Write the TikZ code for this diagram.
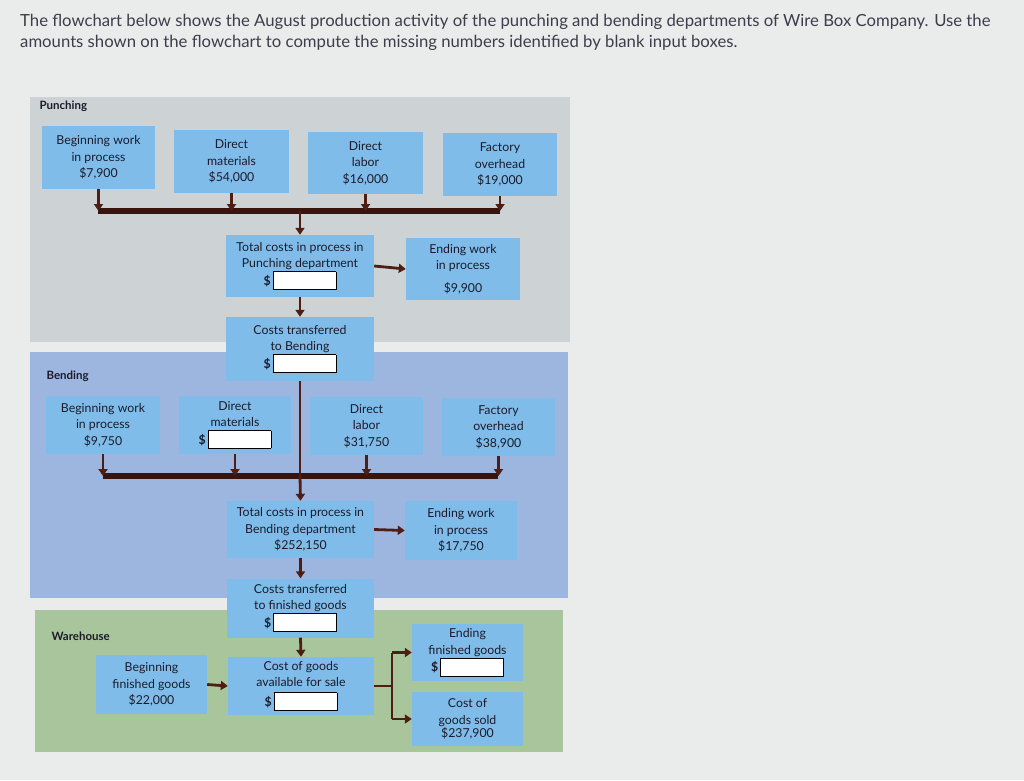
\documentclass[tikz,border=0pt]{standalone}
\usepackage{fontspec}
\setmainfont{Lato}
\usetikzlibrary{arrows.meta}
\definecolor{bg}{HTML}{E9ECEB}
\definecolor{punchgray}{HTML}{CDD3D4}
\definecolor{bendblue}{HTML}{9DB6DF}
\definecolor{waregreen}{HTML}{A9C59B}
\definecolor{boxblue}{HTML}{80BCE9}
\definecolor{ink}{HTML}{1B1B2B}
\definecolor{flow}{HTML}{4E1E14}
\newcommand{\inbox}{{\setlength{\fboxsep}{0pt}\setlength{\fboxrule}{0.9pt}\fcolorbox{black}{white}{\rule[-4pt]{0pt}{17pt}\hspace{62pt}}}}
\begin{document}
\begin{tikzpicture}[x=1pt,y=-1pt,
  box/.style={fill=boxblue, draw=none, align=center, inner sep=0pt, text=ink,
    font=\fontsize{12.3}{16.5}\selectfont},
  plabel/.style={anchor=west, font=\fontsize{11.5}{13}\selectfont\bfseries, text=ink},
  arr/.style={draw=flow, line width=2.8pt, -{Triangle[length=7pt,width=9pt]}},
  link/.style={draw=flow, line width=2.8pt},
  busbar/.style={draw=flow!70!black, line width=6pt}
]
\fill[bg] (0,0) rectangle (1024,780);
\useasboundingbox (0,0) rectangle (1024,780);

% heading
\node[anchor=base west, inner sep=0pt, text=ink!85, font=\fontsize{16.7}{21}\selectfont] (head1) at (20,26)
  {The flowchart below shows the August production activity of the punching and bending departments of Wire Box Company. Use the};
\node[anchor=base west, inner sep=0pt, text=ink!85, font=\fontsize{16.7}{21}\selectfont] (head2) at (20,47)
  {amounts shown on the flowchart to compute the missing numbers identified by blank input boxes.};

% panels
\fill[punchgray] (30,97) rectangle (570,342);
\fill[bendblue] (30,352) rectangle (568,598);
\fill[waregreen] (35,610) rectangle (563,752);

\node[plabel] (lpunch) at (36,106) {Punching};
\node[plabel] (lbend) at (43,376) {Bending};
\node[plabel] (lware) at (48,636) {Warehouse};

% Punching
\node[box, minimum width=113, minimum height=63] (pb1) at (98.5,157.5) {Beginning work\\in process\\\$7,900};
\node[box, minimum width=115, minimum height=63] (pb2) at (231.5,161.5) {Direct\\materials\\\$54,000};
\node[box, minimum width=115, minimum height=62] (pb3) at (365.5,163) {Direct\\labor\\\$16,000};
\node[box, minimum width=114, minimum height=63] (pb4) at (500,164.5) {Factory\\overhead\\\$19,000};
\coordinate (pbarL) at (98,211);
\coordinate (pbarR) at (500,211);
\coordinate (pbarM) at (300,211);
\draw[busbar] (pbarL) -- (pbarR);
\foreach \n in {pb1,pb2,pb3,pb4} \draw[arr] (\n.south) -- (\n.south |- pbarL);

\node[box, minimum width=148, minimum height=62] (ptot) at (300,266)
  {Total costs in process in\\Punching department\\[1pt]\textbf{\$}\,\inbox};
\node[box, minimum width=114, minimum height=62] (pend) at (463,269)
  {Ending work\\in process\\[6pt]\$9,900};
\node[box, minimum width=148, minimum height=64] (pxfer) at (300,349)
  {Costs transferred\\to Bending\\[1pt]\textbf{\$}\,\inbox};
\draw[arr] (pbarM) -- (ptot.north);
\draw[arr] (ptot.east) -- (pend.west);
\draw[arr] (ptot.south) -- (pxfer.north);

% Bending
\node[box, minimum width=114, minimum height=58] (bb1) at (103,425) {Beginning work\\in process\\\$9,750};
\node[box, minimum width=112, minimum height=58] (bb2) at (235,425) {Direct\\materials\\[1pt]\textbf{\$}\,\inbox};
\node[box, minimum width=113, minimum height=58] (bb3) at (366.5,426) {Direct\\labor\\\$31,750};
\node[box, minimum width=113, minimum height=58] (bb4) at (498.5,427) {Factory\\overhead\\\$38,900};
\coordinate (bbarL) at (103,476);
\coordinate (bbarR) at (498,476);
\coordinate (bbarM) at (300,476);
\draw[busbar] (bbarL) -- (bbarR);
\foreach \n in {bb1,bb2,bb3,bb4} \draw[arr] (\n.south) -- (\n.south |- bbarL);
\draw[link] (pxfer.south) -- (bbarM);

\node[box, minimum width=147, minimum height=57] (btot) at (300.5,529.5)
  {Total costs in process in\\Bending department\\\$252,150};
\node[box, minimum width=112, minimum height=59] (bend) at (461,530.5)
  {Ending work\\in process\\\$17,750};
\node[box, minimum width=147, minimum height=59] (bxfer) at (300.5,608)
  {Costs transferred\\to finished goods\\[1pt]\textbf{\$}\,\inbox};
\draw[arr] (bbarM) -- (btot.north);
\draw[arr] (btot.east) -- (bend.west);
\draw[arr] (btot.south) -- (bxfer.north);

% Warehouse
\node[box, minimum width=111, minimum height=59] (wbeg) at (151.5,684.5)
  {Beginning\\finished goods\\\$22,000};
\node[box, minimum width=146, minimum height=58] (wavail) at (301,686)
  {Cost of goods\\available for sale\\[3pt]\textbf{\$}\,\inbox};
\node[box, minimum width=111, minimum height=57] (wend) at (467.5,652.5)
  {Ending\\finished goods\\[1pt]\textbf{\$}\,\inbox};
\node[box, minimum width=111, minimum height=54] (wcogs) at (467.5,719)
  {Cost of\\goods sold\\[-3pt]\$237,900};
\draw[arr] (bxfer.south) -- (wavail.north);
\draw[arr] (wbeg.east) -- (wavail.west);
\coordinate (split) at (392,686);
\draw[link] (wavail.east) -- (split);
\draw[link] (split |- wend.west) -- (split |- wcogs.west);
\draw[arr] (split |- wend.west) -- (wend.west);
\draw[arr] (split |- wcogs.west) -- (wcogs.west);
\end{tikzpicture}
\end{document}
